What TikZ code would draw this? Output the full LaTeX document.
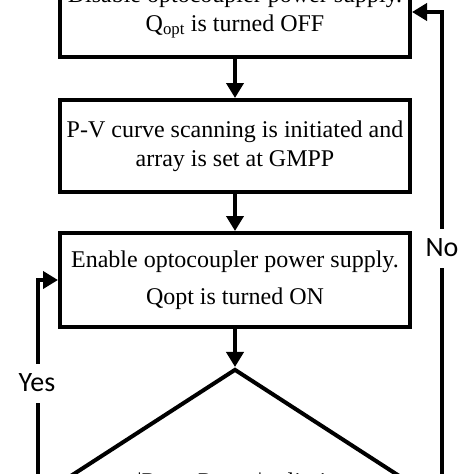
\documentclass[tikz,border=0pt]{standalone}
\usepackage{fontspec}
\setmainfont{Liberation Serif}
\newfontfamily\calib{Carlito}
\usetikzlibrary{arrows.meta,shapes.geometric}
\begin{document}
\begin{tikzpicture}[x=1pt,y=-1pt,
  box/.style={draw,line width=4pt,minimum width=350pt,minimum height=#1,inner sep=0pt,align=center,font=\fontsize{24}{29}\selectfont},
  dia/.style={draw,diamond,line width=4pt,minimum width=358pt,minimum height=232pt,inner sep=0pt,font=\fontsize{24}{29}\selectfont},
  conn/.style={line width=4pt,-{Triangle[width=17pt,length=15pt]}},
  lbl/.style={fill=white,inner xsep=1pt,inner ysep=0pt,minimum height=39pt,font=\calib\fontsize{28}{28}\selectfont}
]
\useasboundingbox (0,0) rectangle (474,474);
\node[box=90pt] (b1) at (235,12) {Disable optocoupler power supply.\\Q\textsubscript{opt} is turned OFF};
\node[box=92pt] (b2) at (235,146) {P-V curve scanning is initiated and\\array is set at GMPP};
\node[box=94pt] (b3) at (235,280) {Enable optocoupler power supply.\\[8pt]Qopt is turned ON};
\node[dia] (dec) at (235,485) {|P\textsubscript{pv} − P\textsubscript{GMPP}| ≤ limit};
\coordinate (rx) at (442,0);
\coordinate (lx) at (38,0);
\draw[conn] (b1) -- (b2);
\draw[conn] (b2) -- (b3);
\draw[conn] (b3) -- (dec);
\draw[conn] (dec.east) -- (dec.east -| rx) -- (rx |- b1.east) -- (b1.east);
\draw[conn] (dec.west) -- (dec.west -| lx) -- (lx |- b3.west) -- (b3.west);
\node[lbl] (no) at (442,248) {No};
\node[lbl] (yes) at (37,383) {Yes};
\end{tikzpicture}
\end{document}
